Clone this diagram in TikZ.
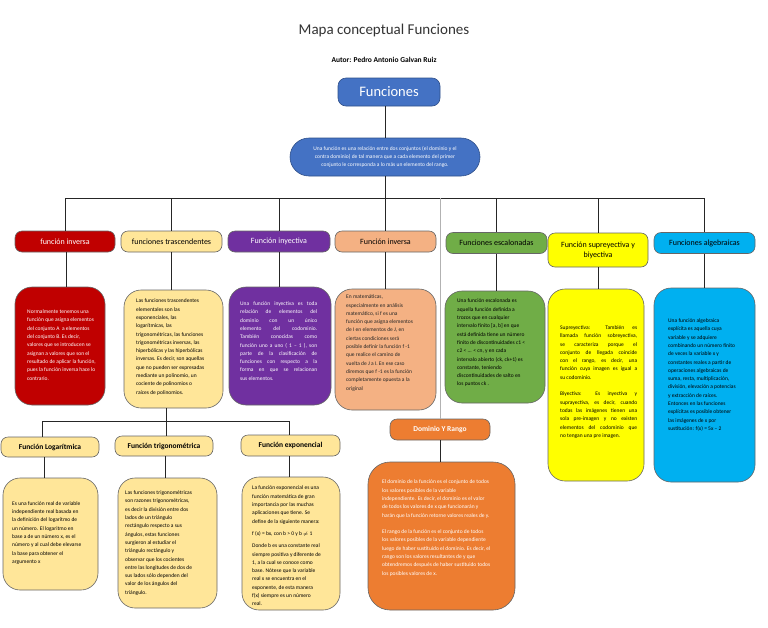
\documentclass[tikz,border=0pt]{standalone}
\usepackage{fontspec}
\setmainfont{Carlito}
\definecolor{cBlue}{HTML}{4472C4}
\definecolor{cRed}{HTML}{C00000}
\definecolor{cCream}{HTML}{FFE699}
\definecolor{cPurple}{HTML}{7030A0}
\definecolor{cSalmon}{HTML}{F4B183}
\definecolor{cGreen}{HTML}{70AD47}
\definecolor{cYellow}{HTML}{FFFF00}
\definecolor{cCyan}{HTML}{00B0F0}
\definecolor{cOrange}{HTML}{ED7D31}
\newcommand\jla[1]{\makebox[77pt][s]{#1}}
\tikzset{
  hdr/.style={draw=black!60, line width=0.6pt, rounded corners=7pt, minimum height=21pt, inner sep=1pt, font=\fontsize{8}{10}\selectfont, align=center},
  subhdr/.style={hdr, font=\bfseries\fontsize{7.5}{9}\selectfont},
  detail/.style={draw=black!60, line width=0.6pt, rounded corners=17pt, inner sep=0pt},
  txt/.style={inner sep=0pt, font=\fontsize{5.5}{8.3}\selectfont, align=left, anchor=west},
  conn/.style={line width=0.7pt, black!85},
  faint/.style={line width=0.6pt, black!30},
}
\begin{document}
\begin{tikzpicture}[x=1pt,y=-1pt]
\useasboundingbox[fill=white] (0,0) rectangle (768,627);

% title
\node[text=black!80, font=\fontsize{15}{18}\selectfont] (title) at (384,30) {Mapa conceptual Funciones};
\node[font=\bfseries\fontsize{7.5}{9}\selectfont] (autor) at (384,60) {Autor: Pedro Antonio Galvan Ruiz};

% root
\node[draw=cBlue!70!black, line width=0.6pt, fill=cBlue, rounded corners=8pt, minimum width=102pt, minimum height=28pt, text=white, font=\fontsize{14.5}{17}\selectfont] (fun) at (389,92) {Funciones};
\node[draw=cBlue!70!black, line width=0.6pt, fill=cBlue, rounded corners=19pt, minimum width=190pt, minimum height=38pt, text=white, align=center, font=\fontsize{5.5}{8.3}\selectfont] (def) at (385,157) {Una función es una relación entre dos conjuntos (el dominio y el\\ contra dominio) de tal manera que a cada elemento del primer\\ conjunto le corresponda a lo más un elemento del rango.};

% headers
\node[hdr, fill=cRed, text=white, minimum width=100pt] (h1) at (65,241.5) {función inversa};
\node[hdr, fill=cCream, minimum width=101pt] (h2) at (171.5,241.5) {funciones trascendentes};
\node[hdr, fill=cPurple, text=white, minimum width=102pt] (h3) at (279,241.5) {Función inyectiva};
\node[hdr, fill=cSalmon, minimum width=101pt] (h4) at (385.5,241.5) {Función inversa};
\node[hdr, fill=cGreen, minimum width=101pt] (h5) at (496.5,243) {Funciones escalonadas};
\node[hdr, fill=cYellow, minimum width=100pt, minimum height=34pt] (h6) at (598,250) {Función supreyectiva y\\ biyectiva};
\node[hdr, fill=cCyan, minimum width=101pt] (h7) at (704.5,243) {Funciones algebraicas};

% detail boxes
\node[detail, fill=cRed, minimum width=90pt, minimum height=118pt] (d1) at (60,346) {};
\node[detail, fill=cCream, minimum width=99pt, minimum height=118pt] (d2) at (173.5,349) {};
\node[detail, fill=cPurple, minimum width=102pt, minimum height=118pt] (d3) at (280,346) {};
\node[detail, fill=cSalmon, minimum width=101pt, minimum height=121pt] (d4) at (385.5,349.5) {};
\node[detail, fill=cGreen, minimum width=100pt, minimum height=112pt] (d5) at (495,347) {};
\node[detail, fill=cYellow, minimum width=96pt, minimum height=192pt] (d6) at (596,385) {};
\node[detail, fill=cCyan, minimum width=101pt, minimum height=194pt] (d7) at (704.5,385) {};

\node[txt, text=white] (d1t) at (27,345) {Normalmente tenemos una\\ función que asigna elementos\\ del conjunto A\ \ a elementos\\ del conjunto B. Es decir,\\ valores que se introducen se\\ asignan a valores que son el\\ resultado de aplicar la función,\\ pues la función inversa hace lo\\ contrario.};
\node[txt] (d2t) at (136,347) {Las funciones trascendentes\\ elementales son las\\ exponenciales, las\\ logarítmicas, las\\ trigonométricas, las funciones\\ trigonométricas inversas, las\\ hiperbólicas y las hiperbólicas\\ inversas. Es decir, son aquellas\\ que no pueden ser expresadas\\ mediante un polinomio, un\\ cociente de polinomios o\\ raíces de polinomios.};
\node[txt, text=white] (d3t) at (240,341) {\jla{Una función inyectiva es toda}\\ \jla{relación de elementos del}\\ \jla{dominio con un único}\\ \jla{elemento del codominio.}\\ \jla{También conocidas como}\\ \jla{función uno a uno ( 1 – 1 ), son}\\ \jla{parte de la clasificación de}\\ \jla{funciones con respecto a la}\\ \jla{forma en que se relacionan}\\ sus elementos.};
\node[txt, text=black!85] (d4t) at (346,343) {En matemáticas,\\ especialmente en análisis\\ matemático, si f es una\\ función que asigna elementos\\ de I en elementos de J, en\\ ciertas condiciones será\\ posible definir la función f -1\\ que realice el camino de\\ vuelta de J a I. En ese caso\\ diremos que f -1 es la función\\ completamente opuesta a la\\ original};
\node[txt] (d5t) at (457,343) {Una función escalonada es\\ aquella función definida a\\ trozos que en cualquier\\ intervalo finito [a, b] en que\\ está definida tiene un número\\ finito de discontinuidades c1 <\\ c2 < ... < cn, y en cada\\ intervalo abierto (ck, ck+1) es\\ constante, teniendo\\ discontinuidades de salto en\\ los puntos ck .};
\node[txt] (d6t) at (560,382) {\jla{Supreyectiva: También es}\\ \jla{llamada función sobreyectiva,}\\ \jla{se caracteriza porque el}\\ \jla{conjunto de llegada coincide}\\ \jla{con el rango, es decir, una}\\ \jla{función cuya imagen es igual a}\\ su codominio.\\[8.3pt] \jla{Biyectiva: Es inyectiva y}\\ \jla{suprayectiva, es decir, cuando}\\ \jla{todas las imágenes tienen una}\\ \jla{sola pre-imagen y no existen}\\ \jla{elementos del codominio que}\\ no tengan una pre imagen.};
\node[txt] (d7t) at (668,375) {Una función algebraica\\ explícita es aquella cuya\\ variable y se adquiere\\ combinando un número finito\\ de veces la variable x y\\ constantes reales a partir de\\ operaciones algebraicas de\\ suma, resta, multiplicación,\\ división, elevación a potencias\\ y extracción de raíces.\\ Entonces en las funciones\\ explícitas es posible obtener\\ las imágenes de x por\\ sustitución: f(x) = 5x – 2};

% dominio y rango
\node[hdr, fill=cOrange, text=white, minimum width=100pt, font=\bfseries\fontsize{7.5}{9}\selectfont] (dom) at (440,429.5) {Dominio Y Rango};
\node[detail, fill=cOrange, rounded corners=22pt, minimum width=147pt, minimum height=148pt] (od) at (441.5,536) {};
\node[txt, text=white] (odt) at (382,528) {El dominio de la función es el conjunto de todos\\ los valores posibles de la variable\\ independiente. Es decir, el dominio es el valor\\ de todos los valores de x que funcionarán y\\ harán que la función retorne valores reales de y.\\[8.3pt] El rango de la función es el conjunto de todos\\ los valores posibles de la variable dependiente\\ luego de haber sustituido el dominio. Es decir, el\\ rango son los valores resultantes de y que\\ obtendremos después de haber sustituido todos\\ los posibles valores de x.};

% sub headers
\node[subhdr, fill=cCream, minimum width=98pt, minimum height=20pt] (s1) at (50,447) {Función Logarítmica};
\node[subhdr, fill=cCream, minimum width=98pt, minimum height=20pt] (s2) at (164,446) {Función trigonométrica};
\node[subhdr, fill=cCream, minimum width=99pt, minimum height=21pt] (s3) at (290.5,445.5) {Función exponencial};

% sub details
\node[detail, fill=cCream, minimum width=95pt, minimum height=112pt] (t1) at (50.5,534) {};
\node[detail, fill=cCream, minimum width=99pt, minimum height=130pt] (t2) at (167.5,543) {};
\node[detail, fill=cCream, minimum width=98pt, minimum height=133pt] (t3) at (291,543.5) {};

\node[txt] (t1t) at (12,533) {Es una función real de variable\\ independiente real basada en\\ la definición del logaritmo de\\ un número. El logaritmo en\\ base a de un número x, es el\\ número y al cual debe elevarse\\ la base para obtener el\\ argumento x};
\node[txt] (t2t) at (125,543) {Las funciones trigonométricas\\ son razones trigonométricas,\\ es decir la división entre dos\\ lados de un triángulo\\ rectángulo respecto a sus\\ ángulos, estas funciones\\ surgieron al estudiar el\\ triángulo rectángulo y\\ observar que los cocientes\\ entre las longitudes de dos de\\ sus lados sólo dependen del\\ valor de los ángulos del\\ triángulo.};
\node[txt] (t3t) at (252,546) {La función exponencial es una\\ función matemática de gran\\ importancia por las muchas\\ aplicaciones que tiene. Se\\ define de la siguiente manera:\\[4pt] f (x) = bx, con b > 0 y b $\neq$ 1\\[4pt] Donde b es una constante real\\ siempre positiva y diferente de\\ 1, a la cual se conoce como\\ base. Nótese que la variable\\ real x se encuentra en el\\ exponente, de esta manera\\ f(x) siempre es un número\\ real.};

% connectors
\coordinate (bar) at (385,198);
\coordinate (b3L) at (42,421);
\coordinate (b3R) at (289,421);
\coordinate (tx) at (166,0);
\draw[conn] (fun.south -| def.north) -- (def.north);
\draw[conn] (def.south) -- (bar);
\draw[conn] (h1.north |- bar) -- (h7.north |- bar);
\foreach \h in {h1,h2,h3,h4,h5,h6,h7} \draw[conn] (\h.north |- bar) -- (\h.north);
\draw[conn] ([xshift=1pt]h1.south) -- ([xshift=1pt]h1.south |- d1.north);
\draw[conn] (h2.south) -- (h2.south |- d2.north);
\draw[conn] (h3.south) -- (h3.south |- d3.north);
\draw[conn] (h4.south) -- (h4.south |- d4.north);
\draw[conn] (h5.south) -- (h5.south |- d5.north);
\draw[conn] (h6.south) -- (h6.south |- d6.north);
\draw[conn] (h7.south) -- (h7.south |- d7.north);
\draw[faint] (dom.north |- bar) -- (dom.north);
\draw[conn] (dom.south) -- (dom.south |- od.north);
\draw[conn] (tx |- d2.south) -- (tx |- s2.north);
\draw[conn] (b3L |- s1.north) -- (b3L) -- (b3R) -- (b3R |- s3.north);
\draw[conn] ([xshift=-5.5pt]s1.south) -- ([xshift=-5.5pt]s1.south |- t1.north);
\draw[conn] ([xshift=1pt]s2.south) -- ([xshift=1pt]s2.south |- t2.north);
\draw[conn] ([xshift=-1.5pt]s3.south) -- ([xshift=-1.5pt]s3.south |- t3.north);
\end{tikzpicture}
\end{document}
